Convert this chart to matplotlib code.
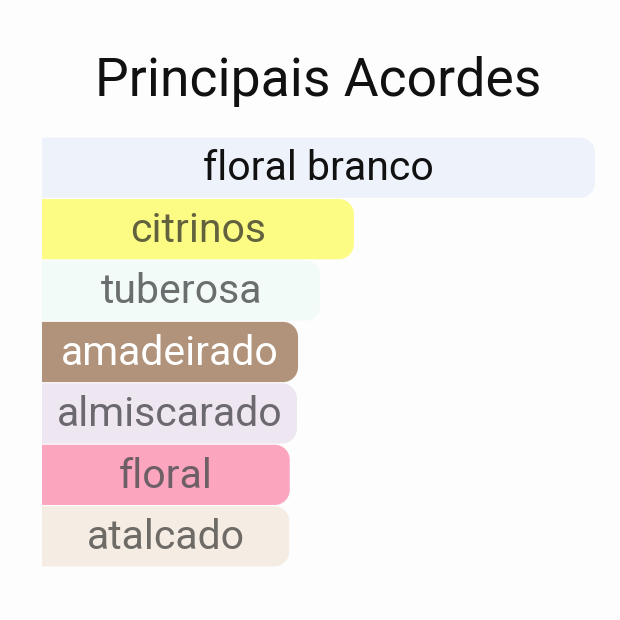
import matplotlib
matplotlib.use('Agg')
import matplotlib.pyplot as plt
from matplotlib.path import Path
from matplotlib.patches import PathPatch

# dados do grafico
acordes = ['floral branco', 'citrinos', 'tuberosa', 'amadeirado',
           'almiscarado', 'floral', 'atalcado']
valores = [100, 56.4, 50.3, 46.3, 46.1, 44.8, 44.7]
cores = ['#EEF2FA', '#FCFC84', '#F2FBF8', '#B0937A',
         '#EEE6F0', '#FBA5BF', '#F5ECE3']
cores_texto = ['#111111', '#62623E', '#6A6E6E', '#FFFFFF',
               '#6C6870', '#6E5F66', '#6E6A66']
titulo = 'Principais Acordes'

plt.rcParams['font.family'] = ['Roboto', 'DejaVu Sans']

fig = plt.figure(figsize=(6.2, 6.2), dpi=100)
fig.patch.set_facecolor('#FDFDFD')
# eixo em pixels: x 42..595, y 137..567
ax = fig.add_axes([42/620, 1-567/620, (595-42)/620, (567-137)/620])
ax.set_xlim(0, 100)
ax.set_ylim(len(acordes) - 0.5, -0.5)
ax.axis('off')

# raio em pixels -> unidades de dados
px_x = (595-42)/100
px_y = (567-137)/len(acordes)
r = 15
rx, ry = r/px_x, r/px_y
k = 0.5523
h = 0.49

def barra(y, w):
    # barra com cantos arredondados so na direita
    y0, y1 = y - h, y + h
    verts = [(0, y0), (w - rx, y0),
             (w - rx + k*rx, y0), (w, y0 + ry - k*ry), (w, y0 + ry),
             (w, y1 - ry),
             (w, y1 - ry + k*ry), (w - rx + k*rx, y1), (w - rx, y1),
             (0, y1), (0, y0)]
    codes = [Path.MOVETO, Path.LINETO,
             Path.CURVE4, Path.CURVE4, Path.CURVE4,
             Path.LINETO,
             Path.CURVE4, Path.CURVE4, Path.CURVE4,
             Path.LINETO, Path.CLOSEPOLY]
    return Path(verts, codes)

for i, (nome, v) in enumerate(zip(acordes, valores)):
    ax.add_patch(PathPatch(barra(i, v), facecolor=cores[i], edgecolor='none'))
    ax.text(v/2, i + 0.02, nome, ha='center', va='center',
            fontsize=29.5, color=cores_texto[i])

fig.text(318/620, 1-96/620, titulo, ha='center', va='baseline',
         fontsize=38.5, color='#111111')

fig.savefig('out.png', dpi=100, facecolor=fig.get_facecolor())
